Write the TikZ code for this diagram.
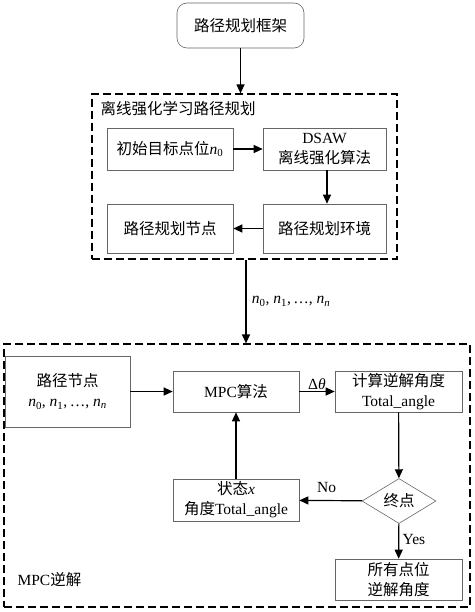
\documentclass[tikz,border=0pt]{standalone}
\usepackage{fontspec}
\setmainfont{Liberation Serif}
\newfontfamily\cjk{Noto Sans CJK SC}
\usetikzlibrary{arrows.meta,shapes.geometric}
\newcommand{\nsub}[1]{\textit{n}\textsubscript{#1}}

\begin{document}
\begin{tikzpicture}[x=1pt, y=-1pt,
        font=\fontsize{15.5}{20}\selectfont,
        box/.style={rectangle, draw=black!60, line width=0.6pt, align=center, inner sep=2pt},
        dashbox/.style={rectangle, draw, line width=1.2pt, dash pattern=on 8pt off 4pt},
        cond/.style={diamond, draw=black!60, line width=0.6pt, aspect=1.65, inner sep=1pt},
        arrow/.style={-{Triangle[length=9pt,width=8pt]}, line width=1.2pt}
    ]
        \useasboundingbox (0,0) rectangle (474,612);

        % Top
        \node[box, rounded corners=10pt, minimum width=127pt, minimum height=45pt] (frame) at (240.5,25.5) {\cjk 路径规划框架};

        % Offline learning
        \node[dashbox, minimum width=305pt, minimum height=165pt] (offline) at (244.5,176.5) {};
        \node[anchor=west] (offtitle) at (97,109) {\cjk 离线强化学习路径规划};
        \node[box, minimum width=126pt, minimum height=42pt] (init) at (170,149) {{\cjk 初始目标点位}\nsub{0}};
        \node[box, minimum width=123pt, minimum height=42pt] (dsaw) at (324.5,149) {DSAW\\{\cjk 离线强化算法}};
        \node[box, minimum width=123pt, minimum height=49pt] (env) at (324.5,228.5) {\cjk 路径规划环境};
        \node[box, minimum width=126pt, minimum height=49pt] (pnodes) at (170,228.5) {\cjk 路径规划节点};

        \draw[arrow] (frame) -- (frame |- offline.north);
        \draw[arrow] (init) -- (dsaw);
        \draw[arrow] (dsaw.south -| env.north) ++(2.5,0) coordinate (d1) -- (d1 |- env.north);
        \draw[arrow] (env) -- (pnodes);

        % MPC
        \node[dashbox, minimum width=466pt, minimum height=263pt] (mpcbox) at (237,475.5) {};
        \node[anchor=west] (mpctitle) at (14,580) {MPC{\cjk 逆解}};
        \node[box, minimum width=125pt, minimum height=71pt] (pathn) at (67.5,391.5) {{\cjk 路径节点}\\\nsub{0}, \nsub{1},\,\ldots, \nsub{\textit{n}}};
        \node[box, minimum width=126pt, minimum height=41pt] (mpc) at (236,391.5) {MPC{\cjk 算法}};
        \node[box, minimum width=127pt, minimum height=41pt] (calc) at (398.5,391.5) {{\cjk 计算逆解角度}\\Total\_angle};
        \node[cond, minimum width=74pt, minimum height=45pt] (term) at (399,501) {\cjk 终点};
        \node[box, minimum width=126pt, minimum height=42pt] (state) at (236,500) {{\cjk 状态}\textit{x}\\{\cjk 角度}Total\_angle};
        \node[box, minimum width=127pt, minimum height=41pt] (allpts) at (398.5,579.5) {{\cjk 所有点位}\\{\cjk 逆解角度}};

        \draw[arrow] (offline.south) ++(1.5,0) coordinate (o1) -- node[right, xshift=2pt] {\nsub{0}, \nsub{1},\,\ldots, \nsub{\textit{n}}} (o1 |- mpcbox.north);
        \draw[arrow] (pathn) -- (mpc);
        \draw[arrow] (mpc) -- node[above, yshift=-2pt] {Δ\textit{θ}} (calc);
        \draw[arrow] (calc) -- (term);
        \draw[arrow] (term) -- node[above, yshift=4pt, xshift=-4pt] {No} (state);
        \draw[arrow] (term) -- node[right, yshift=2pt] {Yes} (allpts);
        \draw[arrow] (state) -- (mpc);
    \end{tikzpicture}
\end{document}
